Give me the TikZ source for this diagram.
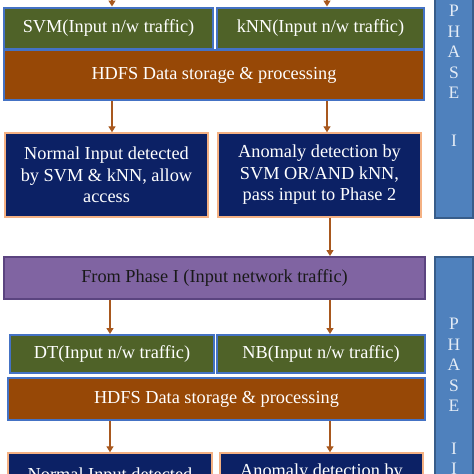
\documentclass[tikz,border=0pt]{standalone}
\usepackage{fontspec}
\setmainfont{Liberation Serif}
\usetikzlibrary{arrows.meta}
\definecolor{olivebox}{HTML}{4F6228}
\definecolor{rustbox}{HTML}{974806}
\definecolor{navybox}{HTML}{0C2165}
\definecolor{purplebox}{HTML}{8064A2}
\definecolor{purpleedge}{HTML}{5B4480}
\definecolor{phasebox}{HTML}{4F81BD}
\definecolor{phaseedge}{HTML}{385D8A}
\definecolor{steeledge}{HTML}{4472C4}
\definecolor{peachedge}{HTML}{F4B183}
\definecolor{arrowbrown}{HTML}{A8581E}
\definecolor{lettercol}{HTML}{E4ECF6}
\tikzset{
  bigtxt/.style={font=\fontsize{18.3}{21.5}\selectfont},
  algobox/.style={bigtxt, draw=steeledge, line width=2pt, fill=olivebox, text=white, inner sep=0pt},
  hdfsbox/.style={bigtxt, draw=steeledge, line width=2pt, fill=rustbox, text=white, inner sep=0pt},
  resultbox/.style={bigtxt, draw=peachedge, line width=1.4pt, fill=navybox, text=white, align=center, inner sep=0pt},
  frombox/.style={bigtxt, draw=purpleedge, line width=2pt, fill=purplebox, text=black!90, inner sep=0pt},
  phasepanel/.style={draw=phaseedge, line width=2pt, fill=phasebox, inner sep=0pt},
  phasetxt/.style={font=\fontsize{17.5}{20.5}\selectfont, text=lettercol, align=center, inner sep=0pt},
  flow/.style={draw=arrowbrown, line width=1.3pt, -{Triangle[width=7pt,length=6pt]}}
}
\begin{document}
\begin{tikzpicture}[x=1pt,y=-1pt]
\useasboundingbox (0,0) rectangle (474,474);
\clip (0,0) rectangle (474,474);
\fill[white] (0,0) rectangle (474,474);

% Phase panels
\node[phasepanel, minimum width=38pt, minimum height=228pt] (ph1) at (454,104) {};
\node[phasetxt, anchor=north] (ph1t) at (454,5) {P\\H\\A\\S\\E\\[27pt]I};
\node[phasepanel, minimum width=38pt, minimum height=246pt] (ph2) at (454,380) {};
\node[phasetxt, anchor=north] (ph2t) at (454,318) {P\\H\\A\\S\\E\\[22pt]I\\I};

% Phase I
\coordinate (in1) at (112,0);
\coordinate (in2) at (327,0);
\node[algobox, minimum width=209pt, minimum height=41pt] (svm) at (108.5,28) {SVM(Input n/w traffic)};
\node[algobox, minimum width=207pt, minimum height=41pt] (knn) at (320.5,28) {kNN(Input n/w traffic)};
\node[hdfsbox, minimum width=420pt, minimum height=50pt] (hdfs1) at (214,75) {HDFS Data storage \& processing};
\draw[draw=white, line width=1.5pt] (215,9) -- (215,47);
\draw[flow] (in1) -- (in1 |- svm.north);
\draw[flow] (in2) -- (in2 |- knn.north);

\node[resultbox, minimum width=203pt, minimum height=84pt] (norm1) at (106.5,175) {Normal Input detected\\by SVM \& kNN, allow\\access};
\node[resultbox, minimum width=203pt, minimum height=84pt] (anom1) at (319.5,175) {Anomaly detection by\\SVM OR/AND kNN,\\pass input to Phase 2};
\draw[flow] (112,0 |- hdfs1.south) -- (112,0 |- norm1.north);
\draw[flow] (327,0 |- hdfs1.south) -- (327,0 |- anom1.north);

% Phase II
\node[frombox, minimum width=421pt, minimum height=42pt] (from) at (214.5,278) {From Phase I (Input network traffic)};
\draw[flow] (330,0 |- anom1.south) -- (330,0 |- from.north);

\node[algobox, minimum width=204pt, minimum height=38pt] (dt) at (112,354) {DT(Input n/w traffic)};
\node[algobox, minimum width=208pt, minimum height=38pt] (nb) at (321,354) {NB(Input n/w traffic)};
\node[hdfsbox, minimum width=417pt, minimum height=42pt] (hdfs2) at (216.5,399) {HDFS Data storage \& processing};
\draw[draw=white, line width=1.5pt] (215.5,336) -- (215.5,373);
\draw[flow] (110,0 |- from.south) -- (110,0 |- dt.north);
\draw[flow] (330,0 |- from.south) -- (330,0 |- nb.north);

\node[resultbox, minimum width=204pt, minimum height=84pt] (norm2) at (110,495) {};
\node[resultbox, minimum width=203pt, minimum height=84pt] (anom2) at (321.5,495) {};
\node[bigtxt, text=white, anchor=base, inner sep=0pt] (norm2t) at (110,480) {Normal Input detected};
\node[bigtxt, text=white, anchor=base, inner sep=0pt] (anom2t) at (321.5,476) {Anomaly detection by};
\draw[flow] (110,0 |- hdfs2.south) -- (110,0 |- norm2.north);
\draw[flow] (330,0 |- hdfs2.south) -- (330,0 |- anom2.north);
\end{tikzpicture}
\end{document}
